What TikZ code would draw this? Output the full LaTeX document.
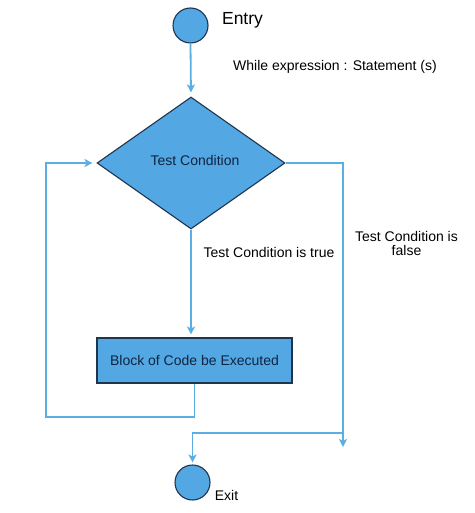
\documentclass[tikz,border=0pt]{standalone}
\usepackage{fontspec}
\setmainfont{Liberation Sans}
\usetikzlibrary{shapes.geometric,arrows.meta,calc}
\definecolor{fillblue}{HTML}{53A7E2}
\definecolor{lineblue}{HTML}{5AAEE3}
\definecolor{edgedark}{HTML}{1E3550}
\definecolor{textnavy}{HTML}{0E2442}
\begin{document}
\begin{tikzpicture}[x=1pt,y=-1pt,
  term/.style={circle,draw=edgedark,fill=fillblue,line width=1.1pt,minimum size=35pt,inner sep=0pt},
  decision/.style={diamond,draw=edgedark,fill=fillblue,line width=1.1pt,minimum width=188pt,minimum height=132pt,inner sep=0pt},
  process/.style={rectangle,draw=edgedark,fill=fillblue,line width=1.1pt,minimum width=195pt,minimum height=45pt,inner sep=0pt,font=\fontsize{14}{16}\selectfont,text=textnavy},
  flow/.style={draw=lineblue,line width=1.8pt},
  arr/.style={-{Stealth[length=8pt,width=8pt,inset=2pt]}},
  lbl/.style={font=\fontsize{14}{17}\selectfont,inner sep=0pt,anchor=base}
]
\useasboundingbox (0,0) rectangle (474,513);
% shapes
\node[term] (entry) at (190.5,25.5) {};
\node[decision] (test) at (191,163) {};
\node[lbl,text=textnavy] (testlbl) at (195,165) {Test Condition};
\node[process] (block) at (194.5,360.5) {Block of Code be Executed};
\node[term] (exit) at (192.5,482.5) {};
% labels
\node[lbl,font=\fontsize{17.5}{20}\selectfont] (entrylbl) at (242.5,25) {Entry};
\node[lbl] (whilelbl) at (335,71) {While expression : Statement (s)};
\node[lbl] (truelbl) at (269,257) {Test Condition is true};
\node[font=\fontsize{14}{13.4}\selectfont,inner sep=0pt,align=center,anchor=center] (falselbl) at (406.5,243.3) {Test Condition is\\false};
\node[lbl] (exitlbl) at (226.5,500) {Exit};
% helper coordinates
\coordinate (loopL) at (46,417);
\coordinate (falseEnd) at (343,447);
\coordinate (joinPt) at (343,433);
% connectors
\draw[flow,arr,shorten >=4pt] (entry.south) -- (test.north);
\draw[flow,arr,shorten >=3pt] (test.south) -- (test.south |- block.north);
\draw[flow,arr,shorten >=4pt] (block.south) |- (loopL) -- (loopL |- test.west) -- (test.west);
\draw[flow,arr] (test.east) -- (test.east -| falseEnd) -- (falseEnd);
\draw[flow,arr,shorten >=2pt] (joinPt) -| (exit.north);
\end{tikzpicture}
\end{document}
